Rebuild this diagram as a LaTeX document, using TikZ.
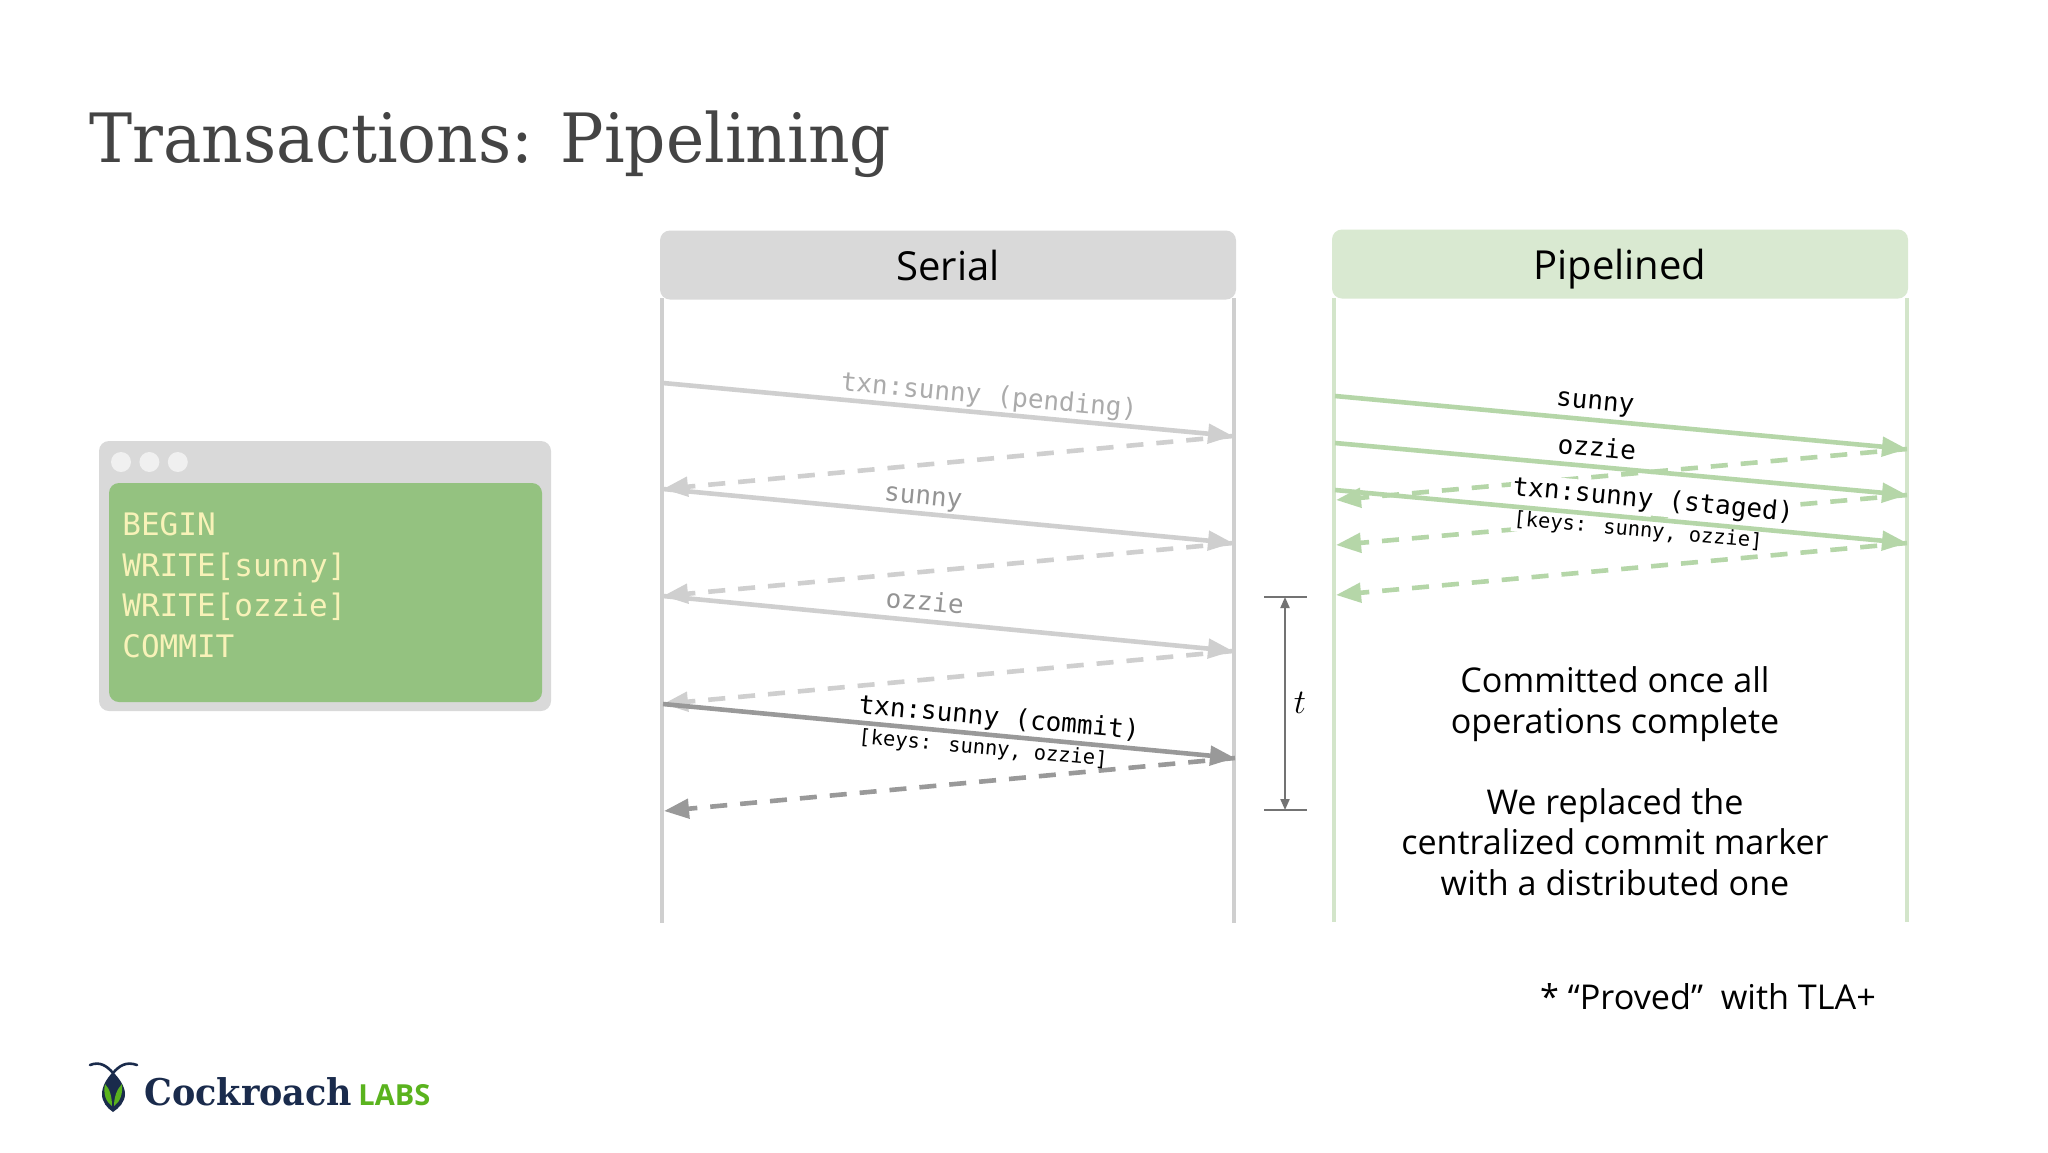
\documentclass[tikz,border=0pt]{standalone}
\usepackage{fontspec}
\usepackage{tikz}
\usetikzlibrary{arrows.meta,positioning}
\setmainfont{Open Sans}
\newfontfamily\codefont{DejaVu Sans Mono}
\newfontfamily\slabfont[FakeStretch=0.95]{DejaVu Serif}
\definecolor{panelgray}{HTML}{D9D9D9}
\definecolor{linegray}{HTML}{CFCFCF}
\definecolor{darkgray}{HTML}{999999}
\definecolor{panelgreen}{HTML}{D9E9D1}
\definecolor{sidegreen}{HTML}{D3E5CA}
\definecolor{linegreen}{HTML}{B5D6A8}
\definecolor{codegreen}{HTML}{94C280}
\definecolor{codecream}{HTML}{F8F2B8}
\definecolor{titlegray}{HTML}{444444}
\definecolor{logonavy}{HTML}{1A2B4C}
\definecolor{logogreen}{HTML}{5AB31E}
\tikzset{
  head/.style={minimum height=34.5pt, rounded corners=5pt, text=black, text height=15.2pt, text depth=0pt, font=\fontsize{20pt}{24pt}\selectfont},
  side/.style={line width=2pt},
  msg/.style={-{Triangle[length=12.5pt,width=9.6pt]}, line width=2.3pt},
  reply/.style={msg, dash pattern=on 8.5pt off 6.5pt},
  big/.style={font=\codefont\fontsize{13pt}{15pt}\selectfont, rotate=-5.3, inner sep=1pt},
  small/.style={font=\codefont\fontsize{10.2pt}{12pt}\selectfont, rotate=-5.3, inner sep=1pt},
  para/.style={align=center, font=\fontsize{17.05pt}{20.25pt}\selectfont, text=black}
}
\begin{document}
\begin{tikzpicture}[x=0.5pt, y=-0.5pt]
    \useasboundingbox (0,0) rectangle (2048,1152);
    \fill[white] (0,0) rectangle (2048,1152);
    \node (title) [anchor=base west, inner sep=0pt, text=titlegray, font=\slabfont\fontsize{34pt}{40pt}\selectfont] at (89,162) {Transactions: Pipelining};

    % window with the statements
    \node (window) [minimum width=226pt, minimum height=135pt, fill=panelgray, rounded corners=5pt] at (325,576) {};
    \node (code) [minimum width=216.5pt, minimum height=109.5pt, fill=codegreen, rounded corners=5pt] at (325.5,592.5) {};
    \node (dot1) [circle, minimum size=10pt, inner sep=0pt, fill=white!60!panelgray] at (121,462) {};
    \node (dot2) [circle, minimum size=10pt, inner sep=0pt, fill=white!60!panelgray, right=3.8pt of dot1] {};
    \node (dot3) [circle, minimum size=10pt, inner sep=0pt, fill=white!60!panelgray, right=3.8pt of dot2] {};
    \node (stmts) [anchor=north west, inner sep=0pt, align=left, text=codecream, font=\codefont\fontsize{15.5pt}{20.3pt}\selectfont] at (122,512) {BEGIN\\WRITE[sunny]\\WRITE[ozzie]\\COMMIT};

    % serial
    \coordinate (sl0) at (662,298);
    \coordinate (sl1) at (662,923);
    \coordinate (sr0) at (1234,298);
    \coordinate (sr1) at (1234,923);
    \path[side, color=linegray] (sl0) edge (sl1) (sr0) edge (sr1);
    \node (serial) [head, minimum width=288pt, fill=panelgray] at (948,265) {Serial};
    \coordinate (sa0) at (663,383);
    \coordinate (sb0) at (1233,436);
    \coordinate (sa1) at (663,489);
    \coordinate (sb1) at (1233,543);
    \coordinate (sa2) at (663,596);
    \coordinate (sb2) at (1233,651);
    \coordinate (sa3) at (663,704);
    \coordinate (sb3) at (1235,758);
    \coordinate (sa4) at (664,811);
    \path[color=linegray]
    (sa0) edge[msg] (sb0)
    (sb0) edge[reply] (sa1)
    (sa1) edge[msg] (sb1)
    (sb1) edge[reply] (sa2)
    (sa2) edge[msg] (sb2)
    (sb2) edge[reply] (sa3)
    ;
    \path[color=darkgray]
    (sa3) edge[msg] (sb3)
    (sb3) edge[reply] (sa4)
    ;
    \node (pending) [big, text=black!33] at (989,397) {txn:sunny (pending)};
    \node (ssunny) [big, text=black!42] at (923,500) {sunny};
    \node (sozzie) [big, text=black!42] at (925,601) {ozzie};
    \node (commit) [big] at (999,719) {txn:sunny (commit)};
    \node (skeys) [small] at (983,749) {[keys: sunny, ozzie]};

    % the time bracket
    \coordinate (t0) at (1285,597);
    \coordinate (t1) at (1285,810);
    \coordinate (t0l) at (1264,597);
    \coordinate (t0r) at (1307,597);
    \coordinate (t1l) at (1264,810);
    \coordinate (t1r) at (1307,810);
    \path[color=black!55, line width=1pt]
    (t0l) edge (t0r)
    (t1l) edge (t1r)
    (t0) edge[{Triangle[length=5.5pt,width=4.5pt]}-{Triangle[length=5.5pt,width=4.5pt]}] (t1)
    ;
    \node (tlabel) [font=\fontsize{19pt}{22pt}\selectfont] at (1300,703) {$t$};

    % pipelined
    \coordinate (pl0) at (1334,298);
    \coordinate (pl1) at (1334,922);
    \coordinate (pr0) at (1907,298);
    \coordinate (pr1) at (1907,922);
    \path[side, color=sidegreen] (pl0) edge (pl1) (pr0) edge (pr1);
    \node (pipelined) [head, minimum width=288pt, fill=panelgreen] at (1620,264) {Pipelined};
    \coordinate (pa0) at (1335,396);
    \coordinate (pb0) at (1907,449);
    \coordinate (pa1) at (1335,443);
    \coordinate (pb1) at (1907,495);
    \coordinate (pa2) at (1335,490);
    \coordinate (pb2) at (1907,543);
    \coordinate (pc0) at (1336,500);
    \coordinate (pc1) at (1336,545);
    \coordinate (pc2) at (1336,595);
    \path[color=linegreen]
    (pb0) edge[reply] (pc0)
    (pb1) edge[reply] (pc1)
    (pb2) edge[reply] (pc2)
    ;
    \node (staged) [big, fill=white] at (1653,501) {txn:sunny (staged)};
    \node (pkeys) [small, fill=white] at (1638,531) {[keys: sunny, ozzie]};
    \path[color=linegreen]
    (pa0) edge[msg] (pb0)
    (pa1) edge[msg] (pb1)
    (pa2) edge[msg] (pb2)
    ;
    \node (psunny) [big] at (1595,405) {sunny};
    \node (pozzie) [big] at (1597,447) {ozzie};
    \node (note1) [para] at (1615,704) {Committed once all\\operations complete};
    \node (note2) [para] at (1615,842) {We replaced the\\centralized commit marker\\with a distributed one};
    \node (proved) [font=\fontsize{17.1pt}{20pt}\selectfont, text=black] at (1708,997) {* “Proved”\ \ with TLA+};

    % logo
    \draw[logonavy, line width=1.3pt, line cap=round] (90,1065) .. controls (100,1061) and (107,1066) .. (113,1073) .. controls (119,1066) and (126,1061) .. (137,1065);
    \fill[logonavy] (113,1072) .. controls (120,1079) and (125,1087) .. (125,1094) .. controls (125,1102) and (119,1108) .. (113,1112) .. controls (107,1108) and (102,1102) .. (102,1094) .. controls (102,1087) and (106,1079) .. (113,1072) -- cycle;
    \fill[logogreen] (112,1106) .. controls (106,1102) and (103,1094) .. (105,1084) .. controls (110,1089) and (112,1097) .. (112,1106) -- cycle;
    \fill[logogreen] (114,1106) .. controls (120,1102) and (123,1094) .. (122,1084) .. controls (117,1089) and (114,1097) .. (114,1106) -- cycle;
    \node (brand) [anchor=base west, inner sep=0pt, text=logonavy, font=\slabfont\bfseries\fontsize{18.4pt}{24pt}\selectfont] at (144,1105) {Cockroach};
    \node (labs) [anchor=base west, inner sep=0pt, text=logogreen, font=\bfseries\fontsize{14.5pt}{18pt}\selectfont] at (358,1105) {LABS};
\end{tikzpicture}
\end{document}
